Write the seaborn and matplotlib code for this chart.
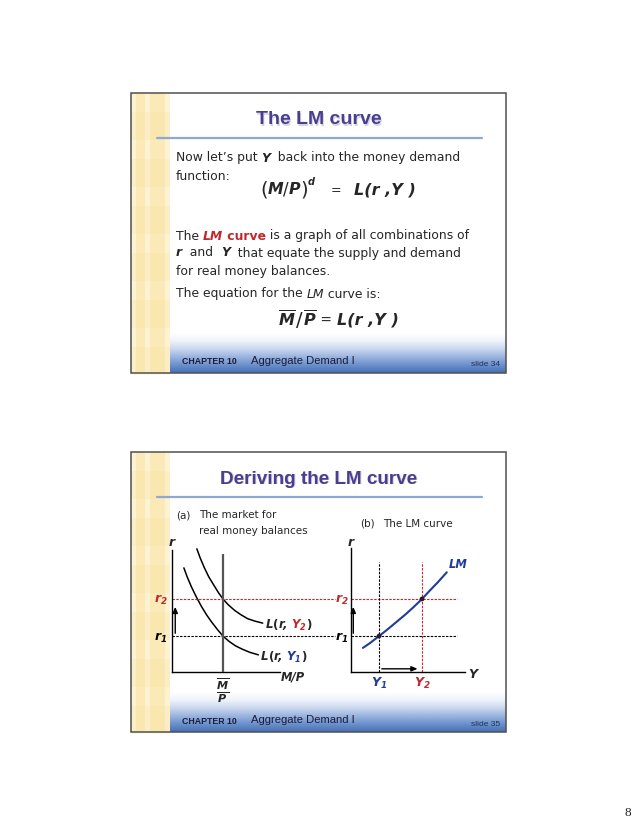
import numpy as np
import pandas as pd
import matplotlib
matplotlib.use("Agg")
import matplotlib.pyplot as plt
import seaborn as sns
from matplotlib.patches import Rectangle
from matplotlib.colors import LinearSegmentedColormap

# ---- chart values (panel units 0..10) ----
r_names = ["r1", "r2"]
r_vals = [2.83, 5.75]
mp_supply = 4.72

ly2_x = [2.3, 2.6, 3.0, 3.4, 3.9, 4.3, 4.72, 5.2, 5.8, 6.4, 7.0, 7.7, 8.4]
ly2_y = [9.7, 9.0, 8.2, 7.5, 6.8, 6.25, 5.75, 5.3, 4.85, 4.5, 4.2, 4.0, 3.85]
ly1_x = [1.1, 1.4, 1.8, 2.2, 2.7, 3.2, 3.7, 4.2, 4.72, 5.3, 5.9, 6.5, 7.2, 8.0]
ly1_y = [8.2, 7.5, 6.7, 6.0, 5.2, 4.5, 3.9, 3.35, 2.83, 2.4, 2.05, 1.8, 1.55, 1.35]

y_names = ["Y1", "Y2"]
y_vals = [2.46, 6.23]
lm_x = [1.05, 1.7, 2.46, 3.2, 4.0, 4.8, 5.5, 6.23, 6.9, 7.6, 8.4]
lm_y = [1.9, 2.3, 2.83, 3.35, 3.95, 4.55, 5.12, 5.75, 6.4, 7.05, 7.85]

RED = "#C0282D"
BLUE = "#1F3C9A"
TITLE = "#4A3F8E"

sns.set_style("white")
plt.rcParams["font.family"] = ["DejaVu Sans"]
plt.rcParams["mathtext.fontset"] = "custom"
plt.rcParams["mathtext.it"] = "DejaVu Sans:bold:italic"
plt.rcParams["mathtext.rm"] = "DejaVu Sans"
plt.rcParams["mathtext.bf"] = "DejaVu Sans:bold"

W, H = 638, 826
fig = plt.figure(figsize=(W / 100, H / 100), dpi=100)
fig.patch.set_facecolor("white")
bg = fig.add_axes([0, 0, 1, 1])
bg.set_xlim(0, W)
bg.set_ylim(H, 0)
bg.axis("off")
renderer = fig.canvas.get_renderer()


def rich(ax, x, y, parts, ha="left", **kw):
    """draw text pieces one after another (pixel coords of bg)"""
    arts = []
    cx = x
    for p in parts:
        p = dict(p)
        txt = p.pop("t")
        dy = p.pop("dy", 0)
        t = ax.text(cx, y + dy, txt, va="center", ha="left", **{**kw, **p})
        w = t.get_window_extent(renderer).width
        arts.append(t)
        cx += w
    if ha == "center":
        shift = (cx - x) / 2
        for t in arts:
            px, py = t.get_position()
            t.set_position((px - shift, py))
    return arts


grad_cmap = LinearSegmentedColormap.from_list(
    "foot", ["#FFFFFF", "#EEF2FA", "#C9D7EE", "#9AB4DF", "#6C91CC", "#4470B6"])


def slide(top, title, num, tfs):
    x0, x1 = 131, 506
    bot = top + 280
    bg.add_patch(Rectangle((x0, top), x1 - x0, bot - top, facecolor="white",
                           edgecolor="none", zorder=0))
    # yellow stripe
    bg.add_patch(Rectangle((x0, top), 39, bot - top, facecolor="#FDF3D3",
                           edgecolor="none", zorder=1))
    for cx, cw in [(136, 9), (150, 15)]:
        bg.add_patch(Rectangle((cx, top), cw, bot - top, facecolor="#FAE4A6",
                               edgecolor="none", alpha=0.6, zorder=1))
    for ry in range(top + 19, bot, 47):
        bg.add_patch(Rectangle((x0, ry), 39, 28, facecolor="#F7DA8E",
                               edgecolor="none", alpha=0.18, zorder=1))
    # footer gradient
    g = np.linspace(0, 1, 100).reshape(-1, 1)
    bg.imshow(g, extent=(170, x1, bot, bot - 40), cmap=grad_cmap, aspect="auto",
              zorder=1, interpolation="bicubic")
    bg.add_patch(Rectangle((x0, top), x1 - x0, bot - top, facecolor="none",
                           edgecolor="#505050", lw=1.1, zorder=5))
    bg.set_xlim(0, W)
    bg.set_ylim(H, 0)
    # title
    bg.text(319 + 1, top + 27 + 1, title, ha="center", va="center", fontsize=tfs,
            fontweight="bold", color="#D4D2E4", family="Liberation Sans", zorder=3)
    bg.text(319, top + 27, title, ha="center", va="center", fontsize=tfs,
            fontweight="bold", color=TITLE, family="Liberation Sans", zorder=4)
    bg.plot([157, 482], [top + 45, top + 45], color="#8EA8D6", lw=1.6, zorder=3)
    # footer text
    bg.text(182, bot - 11, "CHAPTER 10", fontsize=6.3, fontweight="bold",
            color="#1C1C3A", va="center", family="Liberation Sans", zorder=4)
    bg.text(251, bot - 12, "Aggregate Demand I", fontsize=8.1, color="#1C1C3A",
            va="center", family="Liberation Sans", zorder=4)
    bg.text(500, bot - 8, f"slide {num}", fontsize=6, color="#22345E",
            va="center", ha="right", family="Liberation Sans", zorder=4)


slide(93, "The LM curve", 34, 14)
slide(452, "Deriving the LM curve", 35, 13.6)

# ---- slide 34 text ----
BFS = 8.95
BI = dict(fontweight="bold", style="italic")
rich(bg, 176, 158, [{"t": "Now let\u2019s put "}, {"t": "Y", **BI},
                    {"t": "  back into the money demand"}], fontsize=BFS, zorder=4)
bg.text(176, 176, "function:", fontsize=BFS, va="center", zorder=4)
rich(bg, 260, 190, [{"t": "(", "fontsize": 14},
                    {"t": "M", **BI, "fontsize": 11.3},
                    {"t": "/", "fontsize": 12},
                    {"t": "P", **BI, "fontsize": 11.3},
                    {"t": ")", "fontsize": 14},
                    {"t": "d", **BI, "fontsize": 7, "dy": -8},
                    {"t": "    =   ", "fontsize": 9},
                    {"t": "L(r ,Y )", **BI, "fontsize": 11.5}], zorder=4)
rich(bg, 176, 236, [{"t": "The "}, {"t": "LM", **BI, "color": RED},
                    {"t": " curve", "fontweight": "bold", "color": RED},
                    {"t": " is a graph of all combinations of"}],
     fontsize=BFS, zorder=4)
rich(bg, 176, 253, [{"t": "r", **BI}, {"t": "  and  "}, {"t": "Y", **BI},
                    {"t": "  that equate the supply and demand"}],
     fontsize=BFS, zorder=4)
bg.text(176, 272, "for real money balances.", fontsize=BFS, va="center", zorder=4)
rich(bg, 176, 294, [{"t": "The equation for the "}, {"t": "LM", "style": "italic"},
                    {"t": " curve is:"}], fontsize=BFS, zorder=4)
rich(bg, 278, 320, [{"t": r"$\overline{M}$", "fontsize": 11.5},
                    {"t": "/", "fontsize": 14},
                    {"t": r"$\overline{P}$", "fontsize": 11.5},
                    {"t": " = ", "fontsize": 10},
                    {"t": "L(r ,Y )", **BI, "fontsize": 11.5}], zorder=4)


# ---- slide 35 panels ----
def panel_axes(px0, px1, py0=545, py1=672):
    ax = fig.add_axes([px0 / W, (H - py1) / H, (px1 - px0) / W, (py1 - py0) / H])
    ax.patch.set_alpha(0)
    for s in ["top", "right"]:
        ax.spines[s].set_visible(False)
    for s in ["left", "bottom"]:
        ax.spines[s].set_color("black")
        ax.spines[s].set_linewidth(1.0)
    return ax


def finish(ax):
    ax.set_xlim(0, 10)
    ax.set_ylim(0, 10)
    ax.set_xticks([])
    ax.set_yticks([])
    ax.set_xlabel("")
    ax.set_ylabel("")


dash = (0, (2.2, 1.2))
arrow = dict(arrowstyle="-|>,head_length=0.35,head_width=0.15", color="black", lw=1.0)
sub_kw = dict(fontweight="bold", style="italic")

# panel (a)
axa = panel_axes(172, 280)
df_a = pd.concat([
    pd.DataFrame({"x": ly2_x, "y": ly2_y, "curve": "L(r,Y2)"}),
    pd.DataFrame({"x": ly1_x, "y": ly1_y, "curve": "L(r,Y1)"}),
])
sns.lineplot(data=df_a, x="x", y="y", units="curve", estimator=None, sort=False,
             color="black", lw=1.1, ax=axa, legend=False)
axa.vlines(mp_supply, 0, 9.3, color="#555555", lw=1.6, zorder=3)
axa.hlines(r_vals[1], 0, 15.1, color=RED, lw=0.8, linestyles=dash, clip_on=False)
axa.hlines(r_vals[0], 0, 15.1, color="black", lw=0.8, linestyles=dash, clip_on=False)
axa.annotate("", xy=(0.3, r_vals[1] - 0.4), xytext=(0.3, r_vals[0]), arrowprops=arrow)
finish(axa)
axa.spines["left"].set_bounds(0, 9.6)

# panel (b)
axb = panel_axes(351, 465)
sns.lineplot(x=lm_x, y=lm_y, color=BLUE, lw=1.5, sort=False, ax=axb)
axb.hlines(r_vals[1], 0, 9.3, color=RED, lw=0.8, linestyles=dash, clip_on=False)
axb.hlines(r_vals[0], 0, 9.3, color="black", lw=0.8, linestyles=dash, clip_on=False)
axb.vlines(y_vals[0], 0, 8.66, color="black", lw=0.8, linestyles=dash)
axb.vlines(y_vals[1], 0, 8.66, color=RED, lw=0.8, linestyles=dash)
sns.scatterplot(x=y_vals, y=r_vals, color="#2A1A2A", s=12,
                edgecolor="none", zorder=5, ax=axb)
axb.annotate("", xy=(0.2, r_vals[1] - 0.4), xytext=(0.2, r_vals[0]), arrowprops=arrow)
axb.annotate("", xy=(y_vals[1] - 0.15, 0.25), xytext=(y_vals[0], 0.25), arrowprops=arrow)
finish(axb)
axb.spines["left"].set_bounds(0, 9.8)

# panel labels (pixel coords)
PFS = 7.5
bg.text(176, 515, "(a)", fontsize=PFS, va="center", zorder=4)
bg.text(199, 515, "The market for", fontsize=PFS, va="center", zorder=4)
bg.text(199, 531, "real money balances", fontsize=PFS, va="center", zorder=4)
bg.text(360, 524, "(b)", fontsize=PFS, va="center", zorder=4)
bg.text(383, 524, "The LM curve", fontsize=PFS, va="center", zorder=4)

for px in (172, 351):
    bg.text(px, 542, "r", fontsize=9, ha="center", va="center", zorder=4, **sub_kw)

for lx in (161, 342):
    for name, rv, col in zip(r_names, r_vals, ["black", RED]):
        py = 672 - rv * 12.7
        rich(bg, lx, py, [{"t": "r", "fontsize": 9, **sub_kw, "color": col},
                          {"t": name[1], "fontsize": 6.3, **sub_kw, "color": col, "dy": 3}],
             ha="center", zorder=4)

for name, yv, col in zip(y_names, y_vals, [BLUE, RED]):
    px = 351 + yv * 11.4
    rich(bg, px, 682, [{"t": "Y", "fontsize": 9, **sub_kw, "color": col},
                       {"t": name[1], "fontsize": 6.3, **sub_kw, "color": col, "dy": 3}],
         ha="center", zorder=4)

bg.text(473, 675, "Y", fontsize=9, ha="center", va="center", zorder=4, **sub_kw)
bg.text(293, 677, "M/P", fontsize=8.3, ha="center", va="center", zorder=4, **sub_kw)
bg.text(223, 691, r"$\frac{\overline{M}}{P}$", fontsize=11.5, ha="center", va="center",
        zorder=4)
bg.text(458, 565, "LM", fontsize=8.3, ha="center", va="center", color=BLUE, zorder=4,
        **sub_kw)

for name, lbl_y, yc, xs in [("Y2", 625, RED, 266), ("Y1", 657, BLUE, 261)]:
    rich(bg, xs, lbl_y, [{"t": "L", **sub_kw}, {"t": "(", "fontweight": "bold"},
                         {"t": "r, ", **sub_kw},
                         {"t": "Y", **sub_kw, "color": yc},
                         {"t": name[1], "fontsize": 5.8, **sub_kw, "color": yc, "dy": 3},
                         {"t": ")", "fontweight": "bold"}], fontsize=8.5, zorder=4)

# page number
bg.text(628, 813, "8", fontsize=9.5, family="Liberation Serif", ha="center",
        va="center", color="#222222")

fig.savefig("out.png", dpi=100, facecolor="white")
